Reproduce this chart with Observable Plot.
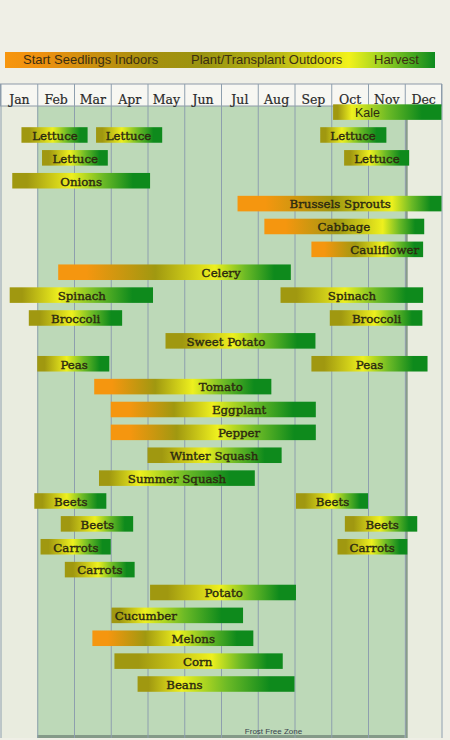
<!DOCTYPE html>
<html><head><meta charset="utf-8">
<script src="https://cdn.jsdelivr.net/npm/d3@7"></script>
<script src="https://cdn.jsdelivr.net/npm/@observablehq/plot@0.6"></script>
<style>
html,body{margin:0;padding:0;background:#efefe6;}
#legend{position:relative;width:450px;height:76px;}
#legend .bar{position:absolute;left:5px;top:52px;width:430px;height:16px;
 background:linear-gradient(to right,#f7960e 0%,#ec900f 9%,#a88f0e 32%,#9a9410 46%,#b8b614 63%,#f2f21c 80%,#8cca22 89%,#0b8a1e 100%);}
#legend span{position:absolute;top:52px;line-height:16px;font:13px "Liberation Sans",Arial,sans-serif;color:#3b2e12;white-space:nowrap;}
#chart svg{display:block;background:none;}
</style></head><body>
<div id="legend"><div class="bar"></div></div>
<div id="chart"></div>
<script>
// ---- data ----
const months = ["Jan","Feb","Mar","Apr","May","Jun","Jul","Aug","Sep","Oct","Nov","Dec"];
const legendLabels = ["Start Seedlings Indoors","Plant/Transplant Outdoors","Harvest"];
const frostFreeZone = [1, 11]; // Feb through Nov
const crops  = ["Kale","Lettuce","Lettuce","Lettuce","Lettuce","Lettuce","Onions","Brussels Sprouts","Cabbage","Cauliflower","Celery","Spinach","Spinach","Broccoli","Broccoli","Sweet Potato","Peas","Peas","Tomato","Eggplant","Pepper","Winter Squash","Summer Squash","Beets","Beets","Beets","Beets","Carrots","Carrots","Carrots","Potato","Cucumber","Melons","Corn","Beans"];
const rows   = [0,1,1,1,2,2,3,4,5,6,7,8,8,9,9,10,11,11,12,13,14,15,16,17,17,18,18,19,19,20,21,22,23,24,25];
const starts = [9.05,0.57,2.6,8.7,1.13,9.35,0.32,6.45,7.18,8.46,1.57,0.25,7.62,0.77,8.96,4.49,1.0,8.46,2.55,3.0,3.0,4.0,2.68,0.92,8.04,1.64,9.37,1.09,9.17,1.75,4.07,3.02,2.5,3.1,3.73];
const ends   = [12,2.37,4.4,10.5,2.92,11.12,4.07,12,11.53,11.5,7.9,4.15,11.5,3.31,11.48,8.57,2.96,11.62,7.37,8.58,8.58,7.65,6.92,2.88,10.0,3.61,11.34,3.0,11.07,3.65,8.04,6.6,6.88,7.68,8.0];
const plantOut = [9.56,1.42,3.3,9.29,1.89,10.05,1.94,10.65,10.4,10.4,5.83,1.6,9.37,1.94,10.18,6.32,1.8,9.86,5.23,5.78,5.9,5.56,3.79,1.8,9.01,2.57,10.32,1.97,10.1,2.65,5.97,3.93,4.83,5.75,4.93];
const labelAt  = [9.97,1.47,3.47,9.58,2.02,10.23,2.18,9.23,9.33,10.44,5.99,2.2,9.55,2.03,10.22,6.12,1.99,10.03,5.98,6.48,6.48,5.8,4.79,1.9,9.02,2.62,10.37,2.04,10.1,2.69,6.06,3.94,5.23,5.35,4.99];
const indoors  = [0,0,0,0,0,0,0,1,1,1,1,0,0,0,0,0,0,0,1,1,1,0,0,0,0,0,0,0,0,0,0,0,1,0,0];

const data = crops.map((name, i) => ({i, name, row: rows[i], start: starts[i], end: ends[i], peak: plantOut[i], label: labelAt[i], indoor: !!indoors[i]}));

// legend
const legend = document.getElementById("legend");
[23, 191, 374].forEach((left, k) => {
  const s = document.createElement("span");
  s.style.left = left + "px";
  s.textContent = legendLabels[k];
  legend.appendChild(s);
});

const ORANGE = "#f5960f", OLIVE = "#a09810", YELLOW = "#eef01e", LGREEN = "#6cba26", GREEN = "#0e8a1c";
function stops(d) {
  const s = d.start, e = d.end, p = d.peak, f = m => Math.max(0, Math.min(1, (m - s) / (e - s)));
  const a = [];
  if (d.indoor) a.push([0, ORANGE], [f(s + 0.18 * (p - s)), ORANGE], [f(s + 0.62 * (p - s)), OLIVE]);
  else a.push([0, OLIVE], [f(s + 0.25 * (p - s)), OLIVE]);
  a.push([f(p), YELLOW], [f(p + 0.4 * (e - p)), LGREEN], [f(p + 0.78 * (e - p)), GREEN], [1, GREEN]);
  return a;
}

const H = 664, TOP = 30, BOT = 2;
const serif = "DejaVu Serif, Georgia, serif";
const plot = Plot.plot({
  width: 450, height: H,
  marginTop: TOP, marginBottom: BOT, marginLeft: 0, marginRight: 0,
  x: {domain: [0, 12], range: [0.5, 441.5], axis: null},
  y: {type: "band", domain: d3.range(26), range: [21, 623.1], padding: 0.32, round: false, axis: null},
  color: {type: "identity"},
  style: {background: "none", overflow: "visible"},
  marks: [
    Plot.rect([{a: 0, b: 12}], {x1: "a", x2: "b", fill: "#e9ecdf"}),
    Plot.rect([{a: frostFreeZone[0], b: frostFreeZone[1]}], {x1: "a", x2: "b", fill: "#bdd9b8"}),
    Plot.rect([{a: frostFreeZone[0], b: frostFreeZone[1]}], {x1: "a", x2: "b", fill: "#849a88", insetTop: H - TOP - BOT - 3}),
    Plot.ruleX([frostFreeZone[1]], {stroke: "#889c8a", strokeWidth: 2.5, dx: 1.2}),
    Plot.rect([{a: 0, b: 12}], {x1: "a", x2: "b", fill: "#f7f7f2", stroke: "#8d9aa8", insetTop: -22, insetBottom: H - TOP - BOT}),
    Plot.ruleX(d3.range(13), {stroke: "#8e9fae", strokeWidth: 1, insetTop: -22}),
    Plot.text(months, {x: (d, i) => i + 0.5, text: d => d, frameAnchor: "top", dy: -11, fontFamily: serif, fontSize: 12.5, fill: "#2a2a2a", stroke: "#2a2a2a", strokeWidth: 0.2}),
    Plot.barX(data, {x1: "start", x2: "end", y: "row", fill: d => `url(#g${d.i})`}),
    Plot.text(data.filter(d => d.name !== "Kale"), {x: "label", y: "row", text: "name", fontFamily: serif, fontSize: 11.8, fill: "#2c2a10", stroke: "#2c2a10", strokeWidth: 0.4, dy: 0.5}),
    Plot.text(data.filter(d => d.name === "Kale"), {x: "label", y: "row", text: "name", fontFamily: "Liberation Sans, Arial, sans-serif", fontSize: 12.5, fill: "#2c2a10", dy: 0.5}),
    Plot.text(["Frost Free Zone"], {frameAnchor: "bottom", dx: 48, dy: -5, text: d => d, fontFamily: "Liberation Sans, Arial, sans-serif", fontSize: 8, fill: "#39434e"})
  ]
});

// gradients for the bars
const ns = "http://www.w3.org/2000/svg";
const defs = document.createElementNS(ns, "defs");
data.forEach(d => {
  const g = document.createElementNS(ns, "linearGradient");
  g.setAttribute("id", "g" + d.i);
  g.setAttribute("x1", "0"); g.setAttribute("x2", "1"); g.setAttribute("y1", "0"); g.setAttribute("y2", "0");
  stops(d).forEach(([o, c]) => {
    const s = document.createElementNS(ns, "stop");
    s.setAttribute("offset", o);
    s.setAttribute("stop-color", c);
    g.appendChild(s);
  });
  defs.appendChild(g);
});
plot.insertBefore(defs, plot.firstChild);
document.getElementById("chart").appendChild(plot);
</script>
</body></html>
